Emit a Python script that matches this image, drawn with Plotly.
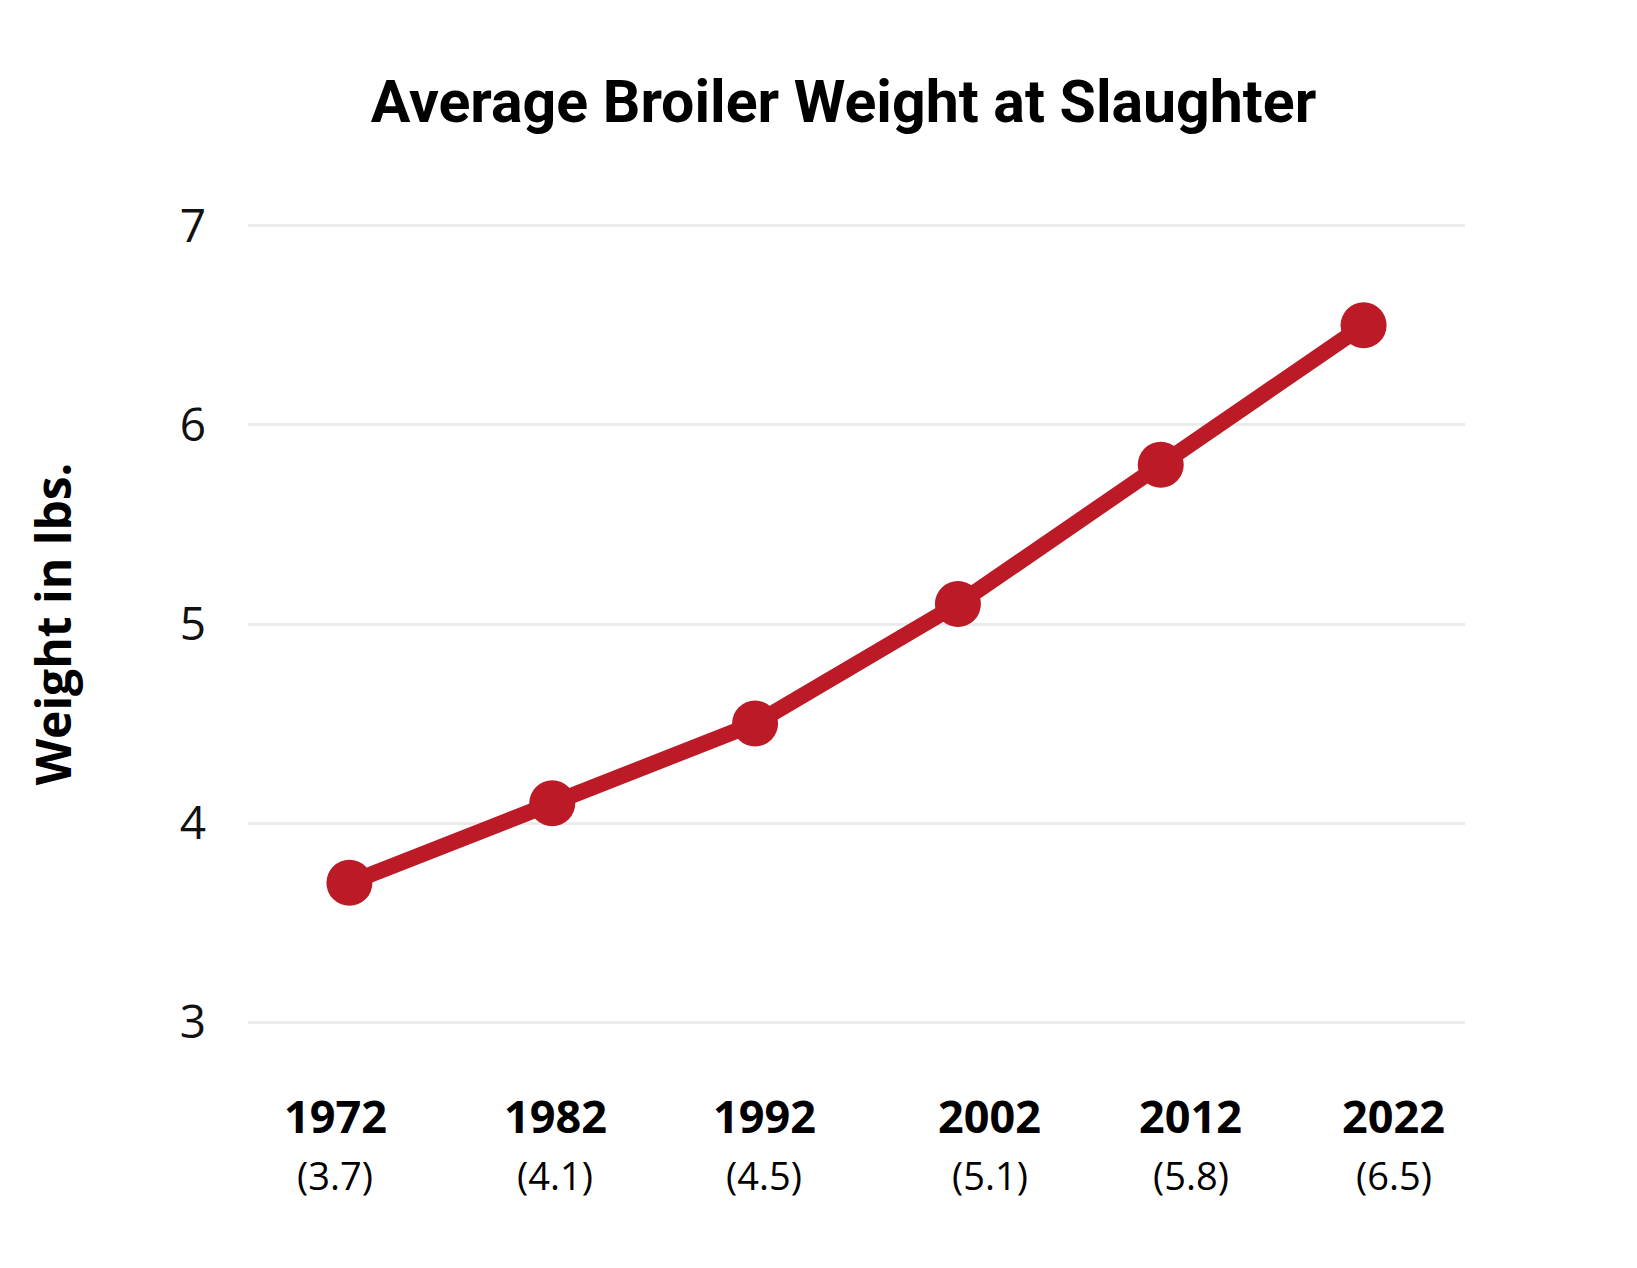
import plotly.graph_objects as go

years = [1972, 1982, 1992, 2002, 2012, 2022]
weights = [3.7, 4.1, 4.5, 5.1, 5.8, 6.5]
y_ticks = [3, 4, 5, 6, 7]
label_shift = [-14, 3, 9, 32, 30, 30]

RED = "#BC1A27"

fig = go.Figure()
fig.add_trace(go.Scatter(
    x=years, y=weights, mode="lines+markers",
    line=dict(color=RED, width=16),
    marker=dict(color=RED, size=46),
    hoverinfo="skip", showlegend=False,
))

annotations = []
for yr, w, dx in zip(years, weights, label_shift):
    annotations.append(dict(
        x=yr, y=0, xref="x", yref="paper", xshift=dx, yshift=-43,
        text=f"<b>{yr}</b>", showarrow=False, yanchor="middle", xanchor="center",
        font=dict(family="Open Sans", size=45, color="#000000"),
    ))
    annotations.append(dict(
        x=yr, y=0, xref="x", yref="paper", xshift=dx, yshift=-103,
        text=f"({w})", showarrow=False, yanchor="middle", xanchor="center",
        font=dict(family="Open Sans", size=38, color="#000000"),
    ))

fig.update_layout(
    width=1637, height=1268,
    paper_bgcolor="white", plot_bgcolor="white",
    margin=dict(l=240, r=180, t=168, b=204),
    title=dict(text="<b>Average Broiler Weight at Slaughter</b>", x=0.5104, xanchor="center",
               y=1 - 93 / 1268, yanchor="middle",
               font=dict(family="Roboto", size=59, color="#000000")),
    xaxis=dict(range=[1967, 2027], showgrid=False, zeroline=False, showticklabels=False,
               showline=False, ticks=""),
    yaxis=dict(range=[2.75, 7.25], tickvals=y_ticks, showgrid=True, gridcolor="#EBEBEB",
               gridwidth=2.5, zeroline=False, showline=False, ticks="",
               tickfont=dict(family="Open Sans", size=46, color="#111111"),
               ticklabelstandoff=41,
               title=dict(text="<b>Weight in lbs.</b>", standoff=92,
                          font=dict(family="Open Sans", size=48, color="#000000"))),
    annotations=annotations,
)

fig.write_html("out.html")
